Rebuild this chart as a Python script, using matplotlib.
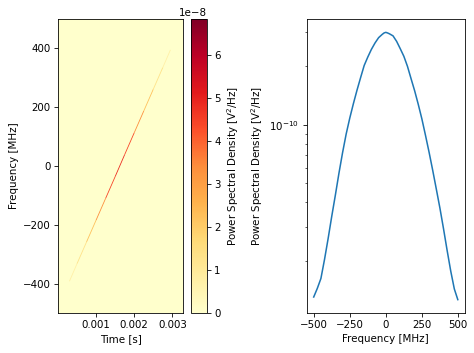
import numpy as np
import matplotlib.pyplot as plt
from matplotlib.collections import LineCollection
from matplotlib.colors import Normalize
from matplotlib import cm

# chirp ridge (time [s], freq [MHz], PSD [V^2/Hz])
ridge_time = [0.30e-3, 0.50e-3, 0.75e-3, 1.00e-3, 1.25e-3, 1.50e-3,
              1.75e-3, 2.00e-3, 2.25e-3, 2.50e-3, 2.75e-3, 2.95e-3]
ridge_freq = [-392, -332, -258, -184, -110, -36, 39, 113, 187, 261, 335, 395]
ridge_psd = [0.5e-8, 0.95e-8, 1.7e-8, 2.8e-8, 4.0e-8, 4.9e-8,
             4.8e-8, 4.0e-8, 2.8e-8, 1.7e-8, 0.95e-8, 0.5e-8]
psd_max = 6.84e-8

# averaged PSD (right panel)
psd_freq = [-500, -475, -450, -425, -400, -375, -350, -325, -300, -275, -250,
            -225, -200, -175, -150, -125, -100, -75, -50, -25, -12, 0, 12,
            25, 50, 75, 100, 125, 150, 175, 200, 225, 250,
            275, 300, 325, 350, 375, 400, 425, 450, 475, 499]
psd_vals = [1.31e-11, 1.45e-11, 1.63e-11, 2.04e-11, 2.61e-11, 3.39e-11,
            4.35e-11, 5.64e-11, 7.18e-11, 8.95e-11, 1.08e-10, 1.28e-10,
            1.50e-10, 1.74e-10, 2.01e-10, 2.22e-10, 2.43e-10, 2.62e-10,
            2.79e-10, 2.90e-10, 2.95e-10, 2.97e-10, 2.95e-10,
            2.92e-10, 2.85e-10, 2.67e-10, 2.45e-10, 2.24e-10, 1.99e-10,
            1.72e-10, 1.49e-10, 1.27e-10, 1.07e-10, 8.82e-11, 7.22e-11,
            5.84e-11, 4.68e-11, 3.74e-11, 2.93e-11, 2.27e-11, 1.78e-11,
            1.44e-11, 1.27e-11]

W, H = 474, 353
fig = plt.figure(figsize=(W / 74, H / 74), dpi=74)

ax1 = fig.add_axes([58 / W, 1 - 313 / H, 125 / W, 294 / H])
cax = fig.add_axes([191 / W, 1 - 313 / H, 16 / W, 294 / H])
ax2 = fig.add_axes([306.5 / W, 1 - 313 / H, 158.5 / W, 294 / H])

cmap = plt.get_cmap('YlOrRd')
norm = Normalize(vmin=0, vmax=psd_max)

ax1.set_facecolor(cmap(0.0))
pts = np.column_stack([ridge_time, ridge_freq])
segs = np.stack([pts[:-1], pts[1:]], axis=1)
seg_vals = 0.5 * (np.array(ridge_psd[:-1]) + np.array(ridge_psd[1:]))
lc = LineCollection(segs, cmap=cmap, norm=norm, linewidths=0.8)
lc.set_array(seg_vals)
ax1.add_collection(lc)
ax1.set_xlim(0, 3.28e-3)
ax1.set_ylim(-500, 500)
ax1.set_xticks([0.001, 0.002, 0.003])
ax1.set_xlabel('Time [s]')
ax1.set_ylabel('Frequency [MHz]')

sm = cm.ScalarMappable(norm=norm, cmap=cmap)
cb = fig.colorbar(sm, cax=cax)
cb.set_label('Power Spectral Density [V$^2$/Hz]')

ax2.semilogy(psd_freq, psd_vals)
ax2.set_xlabel('Frequency [MHz]')
ax2.set_ylabel('Power Spectral Density [V$^2$/Hz]')
ax2.set_xticks([-500, -250, 0, 250, 500])

fig.savefig('out.png', dpi=74)
